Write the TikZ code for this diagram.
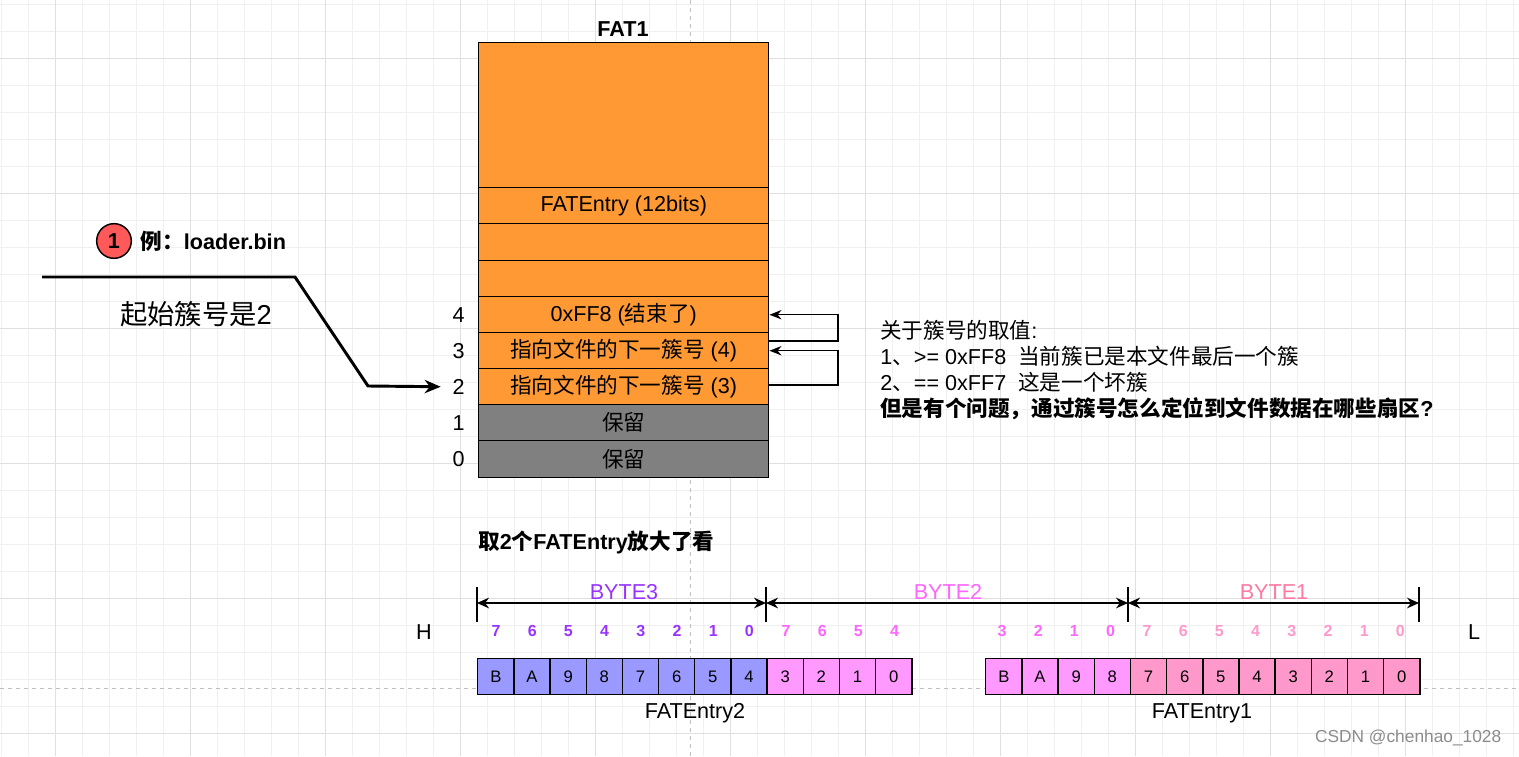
\documentclass[tikz,border=0pt]{standalone}
\usepackage{fontspec}
\setmainfont{Liberation Sans}
\newfontfamily\cjk{Noto Sans CJK SC}
\usetikzlibrary{arrows.meta}
\definecolor{org}{HTML}{FF9933}
\definecolor{gry}{HTML}{808080}
\definecolor{pur}{HTML}{9933FF}
\definecolor{mag}{HTML}{FF66FF}
\definecolor{lpk}{HTML}{FF99CC}
\definecolor{bl}{HTML}{9999FF}
\definecolor{pk}{HTML}{FF99FF}
\definecolor{pk2}{HTML}{FF99CC}
\tikzset{
  row/.style={draw, line width=1.1pt, minimum width=290*0.75pt, inner sep=0pt, font=\fontsize{16.2}{17}\selectfont, anchor=north west},
  cell/.style={draw, line width=1.1pt, minimum width=36.17*0.75pt, minimum height=36*0.75pt, inner sep=0pt, font=\fontsize{12.5}{13}\selectfont, anchor=north west},
  bit/.style={font=\bfseries\fontsize{12}{13}\selectfont},
  lbl/.style={font=\fontsize{16.2}{17}\selectfont},
}
\begin{document}
\begin{tikzpicture}[x=0.75pt,y=-0.75pt]
\useasboundingbox (0,0) rectangle (1519,756);
\fill[white] (0,0) rectangle (1519,756);
\foreach \i in {0,...,56} \draw[black!6] (1+\i*27,0) -- (1+\i*27,756);
\foreach \i in {0,...,28} \draw[black!6] (0,4+\i*27) -- (1519,4+\i*27);
\foreach \i in {0,...,11} \draw[black!12] (55+\i*135,0) -- (55+\i*135,756);
\foreach \i in {0,...,5} \draw[black!12] (0,58+\i*135) -- (1519,58+\i*135);
\draw[black!25, dashed] (690,0) -- (690,756);
\draw[black!25, dashed] (0,688) -- (1519,688);
% FAT1
\node[font=\bfseries\fontsize{16.2}{17}\selectfont] (title) at (623,29) {FAT1};
\node[row, fill=org, minimum height=145*0.75pt] (top) at (478,42) {};
\node[row, fill=org, minimum height=36*0.75pt] (r5) at (478,187) {FATEntry (12bits)};
\node[row, fill=org, minimum height=37*0.75pt] (r6) at (478,223) {};
\node[row, fill=org, minimum height=36*0.75pt] (r7) at (478,260) {};
\node[row, fill=org, minimum height=36*0.75pt] (r4) at (478,296) {0xFF8 ({\cjk 结束了})};
\node[row, fill=org, minimum height=36*0.75pt] (r3) at (478,332) {{\cjk 指向文件的下一簇号} (4)};
\node[row, fill=org, minimum height=36*0.75pt] (r2) at (478,368) {{\cjk 指向文件的下一簇号} (3)};
\node[row, fill=gry, minimum height=36*0.75pt] (r1) at (478,404) {\cjk 保留};
\node[row, fill=gry, minimum height=37*0.75pt] (r0) at (478,440) {\cjk 保留};
\foreach \n in {0,...,4} \node[lbl] at ([xshift=-14.5pt]r\n.west) {\n};
% loops
\coordinate (a1) at (838,341);
\draw[line width=1.1pt,-{Stealth[length=9pt,width=7pt]}] (768,341) -- (a1) |- (r4.east);
\coordinate (a2) at (838,385);
\draw[line width=1.1pt,-{Stealth[length=9pt,width=7pt]}] (768,385) -- (a2) |- (r3.east);
% left
\node[circle, draw, line width=1.1pt, fill=red!65, minimum size=26pt, inner sep=0pt, font=\bfseries\fontsize{16.2}{17}\selectfont] (c1) at (114,241) {1};
\node[font=\bfseries\fontsize{16.2}{17}\selectfont, anchor=west] (ex) at (136,241) {{\cjk 例：}loader.bin};
\coordinate (s) at (42,277);
\draw[line width=2.2pt,-{Stealth[length=12pt,width=10pt]}] (s) -- (295,277) -- (368,386) -- ([xshift=-28pt]r2.west);
\node[font=\fontsize{20.5}{21}\selectfont] (start) at (196,314) {{\cjk 起始簇号是}2};
% notes
\node[lbl, anchor=west, align=left, inner sep=0pt] (note) at (880,370) {{\cjk 关于簇号的取值}:\\[2.5pt]1{\cjk 、}>= 0xFF8 \ {\cjk 当前簇已是本文件最后一个簇}\\[2.5pt]2{\cjk 、}== 0xFF7 \ {\cjk 这是一个坏簇}\\[3pt]{\cjk\bfseries 但是有个问题，通过簇号怎么定位到文件数据在哪些扇区}\textbf{?}};
\node[font=\bfseries\fontsize{16.2}{17}\selectfont, anchor=west, inner sep=0pt] (zoomt) at (478,542) {{\cjk\bfseries 取}2{\cjk\bfseries 个}FATEntry{\cjk\bfseries 放大了看}};
% byte ranges
\foreach \x/\n in {477/t0,766/t1,1128/t2,1419/t3} {\coordinate (\n) at (\x,603); \draw[line width=1.1pt] (\x,587) -- (\x,622);}
\draw[line width=1.1pt,{Stealth[length=9pt,width=8pt]}-{Stealth[length=9pt,width=8pt]}] (t0) -- (t1);
\draw[line width=1.1pt,{Stealth[length=9pt,width=8pt]}-{Stealth[length=9pt,width=8pt]}] (t1) -- (t2);
\draw[line width=1.1pt,{Stealth[length=9pt,width=8pt]}-{Stealth[length=9pt,width=8pt]}] (t2) -- (t3);
\node[lbl, text=pur] at (624,592) {BYTE3};
\node[lbl, text=mag] at (948,592) {BYTE2};
\node[lbl, text=lpk!80!red] at (1274,592) {BYTE1};
\node[lbl] (H) at (424,632) {H};
\node[lbl] (L) at (1474,632) {L};
\foreach \i in {0,...,7} {\pgfmathtruncatemacro\v{7-\i}\node[bit,text=pur] at (496+\i*36.2,631) {\v};}
\foreach \i in {0,...,3} {\pgfmathtruncatemacro\v{7-\i}\node[bit,text=mag] at (786+\i*36.2,631) {\v};}
\foreach \i in {0,...,3} {\pgfmathtruncatemacro\v{3-\i}\node[bit,text=mag] at (1002+\i*36.2,631) {\v};}
\foreach \i in {0,...,7} {\pgfmathtruncatemacro\v{7-\i}\node[bit,text=lpk] at (1147+\i*36.2,631) {\v};}
% cells
\foreach \t [count=\i from 0] in {B,A,9,8,7,6,5,4} \node[cell,fill=bl] (e2c\i) at (477+\i*36.17,658) {\t};
\foreach \t [count=\i from 8] in {3,2,1,0} \node[cell,fill=pk] (e2c\i) at (477+\i*36.17,658) {\t};
\foreach \t [count=\i from 0] in {B,A,9,8} \node[cell,fill=pk] (e1c\i) at (985+\i*36.17,658) {\t};
\foreach \t [count=\i from 4] in {7,6,5,4,3,2,1,0} \node[cell,fill=pk2] (e1c\i) at (985+\i*36.17,658) {\t};
\node[lbl] (f2) at (695,713) {FATEntry2};
\node[lbl] (f1) at (1202,713) {FATEntry1};
\node[text=black!45, font=\fontsize{13}{14}\selectfont, anchor=east] (wm) at (1506,738) {CSDN @chenhao\_1028};
\end{tikzpicture}
\end{document}
